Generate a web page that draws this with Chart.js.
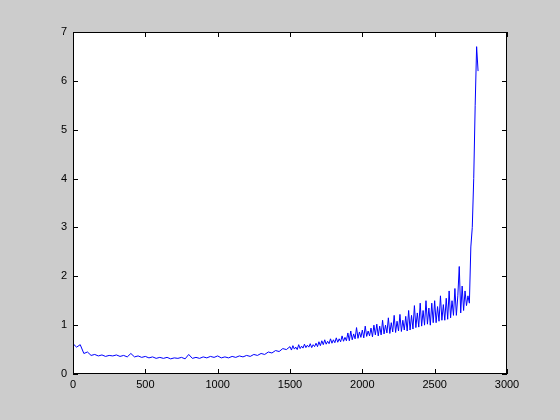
<!DOCTYPE html>
<html><head><script src="https://cdn.jsdelivr.net/npm/chart.js@4"></script>
<style>html,body{margin:0;background:#cccccc;}canvas{display:block;}</style></head>
<body><div style="width:560px;height:420px"><canvas id="c"></canvas></div>
<script>
const xLow = [0,25,50,75,100,125,150,175,200,225,250,275,300,325,350,375,400,425,450,475,500,525,550,575,600,625,650,675,700,725,750,775,800,825,850,875,900,925,950,975,1000,1025,1050,1075,1100,1125,1150,1175,1200,1225,1250,1275,1300,1325,1350,1375,1400,1425,1450,1475];
const yLow = [0.62,0.55,0.6,0.42,0.45,0.38,0.4,0.37,0.39,0.36,0.38,0.37,0.39,0.36,0.38,0.35,0.42,0.35,0.37,0.34,0.36,0.33,0.35,0.32,0.34,0.32,0.34,0.31,0.33,0.32,0.34,0.31,0.4,0.32,0.34,0.32,0.35,0.33,0.36,0.34,0.37,0.33,0.35,0.33,0.36,0.34,0.37,0.35,0.38,0.36,0.4,0.38,0.42,0.4,0.45,0.43,0.48,0.46,0.52,0.5];
const yHigh = [
0.56,0.49,0.58,0.51,0.55,0.5,0.6,0.52,0.57,0.53,0.61,0.54,0.59,0.55,0.62,0.54,0.6,0.56,0.63,0.56,
0.66,0.58,0.68,0.6,0.7,0.61,0.67,0.62,0.72,0.63,0.7,0.64,0.74,0.65,0.72,0.66,0.78,0.67,0.75,0.68,
0.84,0.68,0.88,0.7,0.82,0.72,0.95,0.73,0.86,0.75,0.9,0.74,0.98,0.77,0.88,0.78,0.94,0.76,1.0,0.8,
1.02,0.78,0.98,0.8,1.1,0.82,1.0,0.84,1.15,0.83,1.05,0.86,1.2,0.85,1.08,0.88,1.22,0.87,1.1,0.9,
1.18,0.88,1.3,0.9,1.2,0.92,1.4,0.95,1.25,0.96,1.45,0.98,1.3,1.0,1.5,1.02,1.35,1.0,1.45,1.05,
1.5,1.05,1.38,1.08,1.6,1.1,1.42,1.1,1.55,1.12,1.7,1.15,1.5,1.2,1.75,1.2,1.6,2.2,1.25,1.8,
1.3,1.7,1.4,1.6,1.45,2.6,3.0,4.0,5.5,6.7,6.2];
const xHighStart = 1500, xHighStep = 10;
const xTicks = [0,500,1000,1500,2000,2500,3000];
const yTicks = [0,1,2,3,4,5,6,7];

const pts = xLow.map((x,i)=>({x, y:yLow[i]}));
yHigh.forEach((y,i)=>pts.push({x:xHighStart+i*xHighStep, y}));

const frame = {id:'frame', afterDraw(ch){
  const {ctx, chartArea:a, scales:{x,y}} = ch;
  ctx.save(); ctx.strokeStyle='#000'; ctx.lineWidth=1;
  ctx.strokeRect(a.left+0.5,a.top+0.5,a.right-a.left-1,a.bottom-a.top-1);
  ctx.beginPath();
  xTicks.forEach(v=>{const p=Math.round(x.getPixelForValue(v))+0.5;
    ctx.moveTo(p,a.bottom);ctx.lineTo(p,a.bottom-5);ctx.moveTo(p,a.top);ctx.lineTo(p,a.top+5);});
  yTicks.forEach(v=>{const p=Math.round(y.getPixelForValue(v))+0.5;
    ctx.moveTo(a.left,p);ctx.lineTo(a.left+5,p);ctx.moveTo(a.right,p);ctx.lineTo(a.right-5,p);});
  ctx.stroke(); ctx.restore();
}, beforeDraw(ch){
  const {ctx, chartArea:a}=ch; ctx.save(); ctx.fillStyle='#cccccc'; ctx.fillRect(0,0,ch.width,ch.height);
  ctx.fillStyle='#fff'; ctx.fillRect(a.left,a.top,a.right-a.left,a.bottom-a.top); ctx.restore();
}};

new Chart(document.getElementById('c'), {
  type:'line',
  data:{datasets:[{data:pts, borderColor:'#0000ff', borderWidth:1, pointRadius:0, tension:0, fill:false}]},
  options:{responsive:true, maintainAspectRatio:false, animation:false,
    layout:{padding:{left:0,top:32,right:53,bottom:0}},
    plugins:{legend:{display:false}, tooltip:{enabled:false}},
    scales:{
      x:{type:'linear', min:0, max:3000, afterFit(s){s.height=46;},
        afterBuildTicks(s){s.ticks=xTicks.map(v=>({value:v}));},
        grid:{display:false, drawTicks:false}, border:{display:false},
        ticks:{color:'#000', font:{family:'Liberation Sans', size:11}, padding:4, maxRotation:0, callback:v=>String(v)}},
      y:{min:0, max:7, afterFit(s){s.width=73;},
        afterBuildTicks(s){s.ticks=yTicks.map(v=>({value:v}));},
        grid:{display:false, drawTicks:false}, border:{display:false},
        ticks:{color:'#000', font:{family:'Liberation Sans', size:11}, padding:6, callback:v=>String(v)}}
    }},
  plugins:[frame]
});
</script></body></html>
